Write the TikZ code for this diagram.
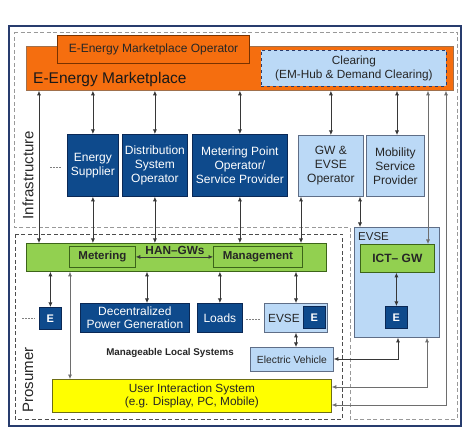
\documentclass[tikz,border=0pt]{standalone}
\usepackage{fontspec}
\setmainfont{Liberation Sans}
\usetikzlibrary{arrows.meta,calc}
\definecolor{orng}{RGB}{245,110,15}
\definecolor{orngd}{RGB}{120,50,0}
\definecolor{dblue}{RGB}{14,74,140}
\definecolor{dblued}{RGB}{10,40,85}
\definecolor{lblue}{RGB}{187,217,246}
\definecolor{lblued}{RGB}{95,110,135}
\definecolor{grn}{RGB}{146,208,80}
\definecolor{grnd}{RGB}{60,100,25}
\definecolor{ylw}{RGB}{255,255,0}
\definecolor{ylwd}{RGB}{110,110,20}
\definecolor{navyc}{RGB}{40,60,110}
\definecolor{conn}{RGB}{55,55,55}
\definecolor{connl}{RGB}{110,110,110}
\begin{document}
\begin{tikzpicture}[x=1pt,y=-1pt,
  box/.style={draw, line width=0.8pt, inner sep=1pt, align=center, anchor=north west},
  darkbox/.style={box, fill=dblue, draw=dblued, text=white, font=\fontsize{12}{14}\selectfont},
  lightbox/.style={box, fill=lblue, draw=lblued, text=black!85, font=\fontsize{12}{14}\selectfont},
  greenbox/.style={box, fill=grn, draw=grnd, text=black!85, font=\fontsize{11.5}{13}\selectfont\bfseries},
  ebox/.style={box, fill=dblue, draw=dblued, text=white, font=\fontsize{11}{13}\selectfont\bfseries, minimum width=22pt, minimum height=22pt},
  tip/.tip={Latex[length=4.5pt,width=4pt]},
  bi/.style={draw=conn, line width=0.7pt, tip-tip},
  bil/.style={draw=connl, line width=0.7pt, tip-tip},
  dots/.style={draw=gray, line width=0.6pt, dash pattern=on 1.5pt off 1.5pt},
  sidelabel/.style={rotate=90, font=\fontsize{15}{17}\selectfont, text=black!85}
]
\useasboundingbox (0,0) rectangle (474,438);

% frames
\draw[navyc, line width=1.2pt] (9,26) rectangle (461,426);
\draw[gray!80, line width=0.8pt, dash pattern=on 4pt off 2.5pt]
  (14,32) -- (457,32) -- (457,419) -- (350,419) -- (350,227) -- (14,227) -- cycle;
\draw[black!70, line width=0.8pt, dash pattern=on 4pt off 2.5pt] (15,234) rectangle (342,419);
\node[sidelabel] (infra) at (28,175) {Infrastructure};
\node[sidelabel] (pros) at (28,380) {Prosumer};

% marketplace
\node[box, fill=orng, draw=orngd!70, minimum width=427pt, minimum height=44pt] (mkt) at (26,46) {};
\node[anchor=base west, font=\fontsize{15.5}{17}\selectfont, text=black!90, inner sep=0pt] (mktl) at (33,84) {E-Energy Marketplace};
\node[box, fill=orng, draw=orngd, line width=1pt, minimum width=192pt, minimum height=28pt,
      font=\fontsize{12}{14}\selectfont, text=black!85] (op) at (57,35) {E-Energy Marketplace Operator};
\node[box, fill=lblue, draw=navyc, dashed, minimum width=185pt, minimum height=36pt,
      font=\fontsize{11.8}{13.5}\selectfont, text=black!85] (clr) at (261,50) {Clearing\\(EM-Hub \& Demand Clearing)};

% service providers
\node[darkbox, minimum width=51pt, minimum height=62pt] (es) at (67,134) {Energy\\Supplier};
\node[darkbox, minimum width=65pt, minimum height=62pt] (dso) at (122,134) {Distribution\\System\\Operator};
\node[darkbox, minimum width=95pt, minimum height=62pt] (mpo) at (192,134) {Metering Point\\Operator/\\Service Provider};
\node[lightbox, minimum width=65pt, minimum height=61pt] (gw) at (298,135) {GW \&\\EVSE\\Operator};
\node[lightbox, minimum width=58pt, minimum height=61pt] (msp) at (366,135) {Mobility\\Service\\Provider};
\draw[dots] (50,167) -- (62,167);

% HAN gateway bar
\node[box, fill=grn, draw=grnd, minimum width=300pt, minimum height=28pt] (han) at (26,243) {};
\node[greenbox, minimum width=66pt, minimum height=21pt] (met) at (69,246) {Metering};
\node[greenbox, minimum width=89pt, minimum height=21pt] (mgmt) at (213,246) {Management};
\node[font=\fontsize{11.8}{13}\selectfont\bfseries, text=black!85, inner sep=0pt] (hanl) at (175,250) {HAN--GWs};

% EVSE (infrastructure side)
\node[box, fill=lblue, draw=lblued, minimum width=85pt, minimum height=110pt] (evse) at (354,227) {};
\node[anchor=north west, inner sep=0pt, font=\fontsize{11.5}{13}\selectfont, text=black!85] (evsel) at (358,232) {EVSE};
\node[greenbox, minimum width=74pt, minimum height=28pt, font=\fontsize{12}{13}\selectfont\bfseries] (ict) at (360,244) {ICT-- GW};
\node[ebox] (e3) at (385,306) {E};

% local systems
\node[ebox] (e1) at (39,307) {E};
\draw[dots] (22,318) -- (35,318);
\node[darkbox, minimum width=109pt, minimum height=29pt, font=\fontsize{12}{13}\selectfont] (dpg) at (80,303) {Decentralized\\Power Generation};
\node[darkbox, minimum width=45pt, minimum height=29pt] (loads) at (197,303) {Loads};
\draw[dots] (246,319) -- (260,319);
\node[lightbox, minimum width=63pt, minimum height=29pt] (evs) at (264,303) {};
\node[anchor=west, inner sep=0pt, font=\fontsize{11.8}{13}\selectfont, text=black!85] (evsl) at (268,318) {EVSE};
\node[ebox] (e2) at (303,306) {E};
\node[font=\fontsize{9.8}{11}\selectfont\bfseries, text=black!85] (mls) at (170,353) {Manageable Local Systems};
\node[lightbox, minimum width=83pt, minimum height=24pt, font=\fontsize{10.3}{12}\selectfont] (ev) at (250,347) {Electric Vehicle};
\node[box, fill=ylw, draw=ylwd, minimum width=279pt, minimum height=33pt,
      font=\fontsize{11.8}{13.5}\selectfont, text=black!85] (uis) at (52,379) {User Interaction System\\(e.g. Display, PC, Mobile)};

% helper coordinates
\coordinate (c39) at (39,0);
\coordinate (c70) at (70,0);
\coordinate (c147) at (147,0);
\coordinate (c296) at (296,0);
\coordinate (c301) at (301,0);
\coordinate (c360) at (360,0);
\coordinate (c397) at (397,0);
\coordinate (c428) at (428,0);
\coordinate (c446) at (446,0);
\coordinate (l1) at (398,359);
\coordinate (l2) at (427,387);
\coordinate (l3) at (446,405);

% marketplace <-> providers
\draw[bi] (c39 |- mkt.south) -- (c39 |- han.north);
\draw[bi] (es.north |- mkt.south) -- (es.north);
\draw[bi] (dso.north |- mkt.south) -- (dso.north);
\draw[bi] (mpo.north |- mkt.south) -- (mpo.north);
\draw[bi] (gw.north |- mkt.south) -- (gw.north);
\draw[bi] (c397 |- mkt.south) -- (c397 |- msp.north);
\draw[bil] (c428 |- mkt.south) -- (c428 |- ict.north);
\draw[bil] (c446 |- mkt.south) -- (l3) -- (l3 -| uis.east);

% providers <-> HAN
\draw[bi] (es.south) -- (es.south |- han.north);
\draw[bi] (dso.south) -- (dso.south |- han.north);
\draw[bi] (mpo.south) -- (mpo.south |- han.north);
\draw[bi] (c301 |- gw.south) -- (c301 |- han.north);
\draw[bi] (c360 |- gw.south) -- (c360 |- evse.north);
\draw[bi] (met.east) -- (mgmt.west);

% HAN <-> local systems
\draw[bi] (e1.north |- han.south) -- (e1.north);
\draw[bil] (c70 |- han.south) -- (c70 |- uis.north);
\draw[bi] (c147 |- han.south) -- (c147 |- dpg.north);
\draw[bi] (loads.north |- han.south) -- (loads.north);
\draw[bi] (c296 |- han.south) -- (c296 |- evs.north);
\draw[bi] (c296 |- evs.south) -- (c296 |- ev.north);

% EVSE
\draw[bi] (ict.south -| e3.north) -- (e3.north);
\draw[bi] (l1 |- evse.south) -- (l1) -- (l1 -| ev.east);
\draw[bil] (l2 |- evse.south) -- (l2) -- (l2 -| uis.east);
\end{tikzpicture}
\end{document}
